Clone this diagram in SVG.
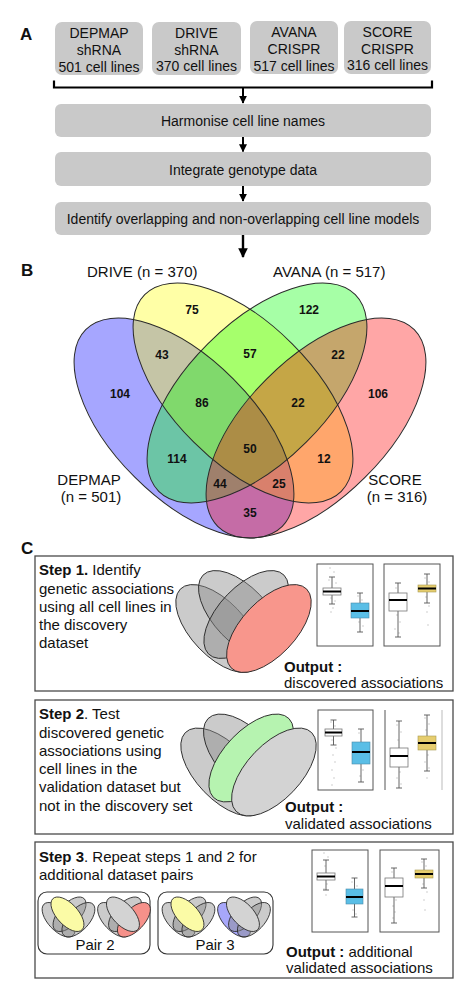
<svg xmlns="http://www.w3.org/2000/svg" xmlns:xlink="http://www.w3.org/1999/xlink" width="474" height="998" viewBox="0 0 474 998">
<style>
text{font-family:"Liberation Sans",Arial,sans-serif;fill:#111}
.hd{font-size:17px;font-weight:bold}
.bx{fill:#c9c9c9}
.bt{font-size:14px;text-anchor:middle}
.ft{font-size:14px;text-anchor:middle}
.vl{font-size:15px}
.vn{font-size:12px;font-weight:bold;text-anchor:middle}
.st{font-size:15px}
.b{font-weight:bold}
.pan{fill:#fff;stroke:#4a4a4a;stroke-width:1.3}
.pair{fill:#fff;stroke:#333;stroke-width:1.1}
.frm{fill:#fff;stroke:#555;stroke-width:1}
.wh{stroke:#555;stroke-width:0.9;fill:none}
.med{stroke:#000;stroke-width:2}
.wb{fill:#fff;stroke:#777;stroke-width:0.8}
.blb{fill:#5abee6;stroke:#4a8aa8;stroke-width:0.6}
.ylb{fill:#e6cd6e;stroke:#a89a50;stroke-width:0.6}
.dot{fill:#888;opacity:0.55}
.ol{fill:none;stroke:#2a2a2a;stroke-width:1}
.g{fill:#8c8c8c;fill-opacity:0.45}
.go{fill:#d3d3d3}
</style>
<defs>
<ellipse id="eA" cx="0" cy="0" rx="139" ry="69.6" transform="translate(184 428) rotate(45)"/>
<ellipse id="eB" cx="0" cy="0" rx="139" ry="69.6" transform="translate(243 393) rotate(45)"/>
<ellipse id="eC" cx="0" cy="0" rx="139" ry="69.6" transform="translate(257 393) rotate(-45)"/>
<ellipse id="eD" cx="0" cy="0" rx="139" ry="69.6" transform="translate(316 428) rotate(-45)"/>
<marker id="ah" viewBox="0 0 10 10" refX="9" refY="5" markerWidth="4" markerHeight="4" markerUnits="strokeWidth" orient="auto"><path d="M0,0 L10,5 L0,10 z" fill="#000"/></marker>
</defs>
<rect width="474" height="998" fill="#fff"/>

<!-- Panel A -->
<text class="hd" x="20" y="40">A</text>
<g id="depmap"><rect class="bx" x="55" y="22" width="88" height="53" rx="7"/><text class="bt" x="99" y="37.5">DEPMAP</text><text class="bt" x="99" y="54.5">shRNA</text><text class="bt" x="99" y="71.5">501 cell lines</text></g>
<g id="drive"><rect class="bx" x="152" y="22" width="89" height="53" rx="7"/><text class="bt" x="196.5" y="37.5">DRIVE</text><text class="bt" x="196.5" y="54.5">shRNA</text><text class="bt" x="196.5" y="71">370 cell lines</text></g>
<g id="avana"><rect class="bx" x="250" y="21" width="88" height="53" rx="7"/><text class="bt" x="294" y="37">AVANA</text><text class="bt" x="294" y="54">CRISPR</text><text class="bt" x="294" y="70.5">517 cell lines</text></g>
<g id="score"><rect class="bx" x="344" y="21" width="87" height="53" rx="7"/><text class="bt" x="387.5" y="36.5">SCORE</text><text class="bt" x="387.5" y="53.5">CRISPR</text><text class="bt" x="387.5" y="70">316 cell lines</text></g>
<g id="harmonise"><rect class="bx" x="55" y="104" width="376" height="33" rx="6"/><text class="ft" x="243" y="126">Harmonise cell line names</text></g>
<g id="integrate"><rect class="bx" x="55" y="152" width="376" height="34" rx="6"/><text class="ft" x="243" y="175">Integrate genotype data</text></g>
<g id="identify"><rect class="bx" x="55" y="202" width="376" height="33" rx="6"/><text class="ft" x="243" y="224">Identify overlapping and non-overlapping cell line models</text></g>
<g id="connectors" fill="none" stroke="#000">
<path d="M54 80.5 V87.5 H432 V80.5" stroke-width="2.2"/>
<line x1="243" y1="87.5" x2="243" y2="103" stroke-width="2" marker-end="url(#ah)"/>
<line x1="243" y1="137" x2="243" y2="151.5" stroke-width="2" marker-end="url(#ah)"/>
<line x1="243" y1="186" x2="243" y2="201" stroke-width="2" marker-end="url(#ah)"/>
<line x1="243" y1="235" x2="243" y2="257" stroke-width="2.4" marker-end="url(#ah)"/>
</g>

<!-- Panel B -->
<text class="hd" x="21" y="276">B</text>
<g id="venn">
<use href="#eA" fill="#0000ff" fill-opacity="0.35"/>
<use href="#eB" fill="#ffff00" fill-opacity="0.35"/>
<use href="#eC" fill="#00ff00" fill-opacity="0.35"/>
<use href="#eD" fill="#ff0000" fill-opacity="0.35"/>
<use href="#eA" class="ol"/><use href="#eB" class="ol"/><use href="#eC" class="ol"/><use href="#eD" class="ol"/>
<text class="vn" x="192" y="314">75</text>
<text class="vn" x="309" y="314">122</text>
<text class="vn" x="162" y="359">43</text>
<text class="vn" x="250" y="358">57</text>
<text class="vn" x="338" y="359">22</text>
<text class="vn" x="120" y="398">104</text>
<text class="vn" x="378" y="398">106</text>
<text class="vn" x="202" y="407">86</text>
<text class="vn" x="298" y="407">22</text>
<text class="vn" x="250" y="453">50</text>
<text class="vn" x="177" y="463">114</text>
<text class="vn" x="324" y="463">12</text>
<text class="vn" x="220" y="488">44</text>
<text class="vn" x="279" y="488">25</text>
<text class="vn" x="250" y="517">35</text>
</g>
<g id="venn-labels">
<text class="vl" x="87" y="277">DRIVE (n = 370)</text>
<text class="vl" x="273" y="277">AVANA (n = 517)</text>
<text class="vl" x="89" y="485" text-anchor="middle">DEPMAP</text>
<text class="vl" x="91" y="502" text-anchor="middle">(n = 501)</text>
<text class="vl" x="395" y="485" text-anchor="middle">SCORE</text>
<text class="vl" x="397" y="502" text-anchor="middle">(n = 316)</text>
</g>

<!-- Panel C -->
<text class="hd" x="21" y="554">C</text>

<g id="step1">
<rect class="pan" x="35" y="556" width="418" height="135"/>
<text class="st" x="39" y="575"><tspan class="b">Step 1.</tspan> Identify</text>
<text class="st" x="39" y="593.5">genetic associations</text>
<text class="st" x="39" y="612">using all cell lines in</text>
<text class="st" x="39" y="630">the discovery</text>
<text class="st" x="39" y="648">dataset</text>
<g transform="translate(243.5 621.5) scale(0.385 0.4) translate(-250 -410.5)" stroke="#2a2a2a" stroke-width="2.3">
<use href="#eA" class="g"/><use href="#eB" class="g"/><use href="#eC" class="g"/>
<use href="#eD" fill="#f8968c"/>
</g>
<rect class="frm" x="317" y="564" width="56" height="82"/>
<rect class="frm" x="384" y="564" width="56" height="82"/>
<g class="dot">
<circle cx="330" cy="568" r="0.7"/><circle cx="334" cy="572" r="0.7"/><circle cx="329" cy="580" r="0.7"/><circle cx="336" cy="583" r="0.7"/><circle cx="331" cy="598" r="0.7"/><circle cx="335" cy="601" r="0.7"/><circle cx="333" cy="608" r="0.7"/><circle cx="331" cy="612" r="0.7"/>
<circle cx="358" cy="596" r="0.7"/><circle cx="362" cy="600" r="0.7"/><circle cx="359" cy="622" r="0.7"/><circle cx="363" cy="626" r="0.7"/>
<circle cx="396" cy="588" r="0.7"/><circle cx="401" cy="596" r="0.7"/><circle cx="397" cy="615" r="0.7"/><circle cx="400" cy="622" r="0.7"/><circle cx="395" cy="629" r="0.7"/><circle cx="399" cy="633" r="0.7"/>
<circle cx="425" cy="578" r="0.7"/><circle cx="429" cy="582" r="0.7"/><circle cx="426" cy="597" r="0.7"/><circle cx="429" cy="606" r="0.7"/><circle cx="427" cy="612" r="0.7"/><circle cx="428" cy="625" r="0.7"/>
</g>
<path class="wh" d="M332 577V604M329 577H335M329 604H335M360 593V632M357 593H363M357 632H363M398 583V637M395 583H401M395 637H401M427 574V603M424 574H430M424 603H430"/>
<rect class="wb" x="323" y="588" width="18" height="7"/><line class="med" x1="323" y1="591.5" x2="341" y2="591.5"/>
<rect class="blb" x="351" y="603" width="18" height="15"/><line class="med" x1="351" y1="611" x2="369" y2="611"/>
<rect class="wb" x="389" y="593" width="18" height="18"/><line class="med" x1="389" y1="600" x2="407" y2="600"/>
<rect class="ylb" x="418" y="585" width="18" height="7"/><line class="med" x1="418" y1="588.5" x2="436" y2="588.5"/>
<text class="st b" x="284" y="672">Output :</text>
<text class="st" x="284" y="688">discovered associations</text>
</g>

<g id="step2">
<rect class="pan" x="35" y="700" width="418" height="134"/>
<text class="st" x="39" y="719"><tspan class="b">Step 2</tspan>. Test</text>
<text class="st" x="39" y="737.5">discovered genetic</text>
<text class="st" x="39" y="755.5">associations using</text>
<text class="st" x="39" y="773.5">cell lines in the</text>
<text class="st" x="39" y="792">validation dataset but</text>
<text class="st" x="39" y="810.5">not in the discovery set</text>
<g transform="translate(248.5 765) scale(0.385 0.4) translate(-250 -410.5)" stroke="#2a2a2a" stroke-width="2.3">
<use href="#eA" class="g" fill-opacity="0.35"/><use href="#eB" class="g" fill-opacity="0.35"/>
<use href="#eC" fill="#b6f3b0"/>
<use href="#eD" class="go"/>
</g>
<rect class="frm" x="318" y="710" width="55" height="80"/>
<path d="M385 710V790" stroke="#555" stroke-width="1"/>
<path d="M442 710V790" stroke="#bbb" stroke-width="1"/>
<g class="dot">
<circle cx="331" cy="722" r="0.7"/><circle cx="335" cy="726" r="0.7"/><circle cx="332" cy="740" r="0.7"/><circle cx="336" cy="748" r="0.7"/><circle cx="333" cy="755" r="0.7"/><circle cx="335" cy="762" r="0.7"/><circle cx="332" cy="770" r="0.7"/><circle cx="334" cy="778" r="0.7"/><circle cx="332" cy="785" r="0.7"/>
<circle cx="359" cy="733" r="0.7"/><circle cx="363" cy="770" r="0.7"/><circle cx="360" cy="776" r="0.7"/>
<circle cx="397" cy="725" r="0.7"/><circle cx="401" cy="732" r="0.7"/><circle cx="398" cy="740" r="0.7"/><circle cx="400" cy="772" r="0.7"/><circle cx="397" cy="778" r="0.7"/><circle cx="401" cy="784" r="0.7"/>
<circle cx="425" cy="718" r="0.7"/><circle cx="429" cy="724" r="0.7"/><circle cx="426" cy="730" r="0.7"/><circle cx="428" cy="755" r="0.7"/><circle cx="425" cy="762" r="0.7"/><circle cx="429" cy="768" r="0.7"/><circle cx="427" cy="778" r="0.7"/>
</g>
<path class="wh" d="M333.5 720V745M330.5 720H336.5M330.5 745H336.5M361 729V782M358 729H364M358 782H364M399 721V788M396 721H402M396 788H402M427 715V771M424 715H430M424 771H430"/>
<rect class="wb" x="325" y="729" width="17" height="7"/><line class="med" x1="325" y1="732.5" x2="342" y2="732.5"/>
<rect class="blb" x="352" y="742" width="18" height="22"/><line class="med" x1="352" y1="752" x2="370" y2="752"/>
<rect class="wb" x="390" y="748" width="18" height="19"/><line class="med" x1="390" y1="756" x2="408" y2="756"/>
<rect class="ylb" x="418" y="736" width="18" height="14"/><line class="med" x1="418" y1="743" x2="436" y2="743"/>
<text class="st b" x="285" y="812">Output :</text>
<text class="st" x="285" y="829">validated associations</text>
</g>

<g id="step3">
<rect class="pan" x="35" y="842" width="418" height="136"/>
<text class="st" x="39" y="862"><tspan class="b">Step 3</tspan>. Repeat steps 1 and 2 for</text>
<text class="st" x="39" y="880">additional dataset pairs</text>
<g id="pair2">
<rect class="pair" x="38" y="892" width="112" height="62" rx="9"/>
<g transform="translate(68.5 917) scale(0.15 0.157) translate(-250 -410.5)" stroke="#2a2a2a" stroke-width="5.5">
<use href="#eA" class="g"/><use href="#eC" class="g"/><use href="#eD" class="g"/>
<use href="#eB" fill="#fbfba6"/>
</g>
<g transform="translate(124 917) scale(0.15 0.157) translate(-250 -410.5)" stroke="#2a2a2a" stroke-width="5.5">
<use href="#eA" class="g"/><use href="#eC" class="g"/>
<use href="#eD" fill="#f6918a"/>
<use href="#eB" class="go"/>
</g>
<text class="st" x="95" y="950" text-anchor="middle">Pair 2</text>
</g>
<g id="pair3">
<rect class="pair" x="158" y="892" width="115" height="62" rx="9"/>
<g transform="translate(188.5 917) scale(0.15 0.157) translate(-250 -410.5)" stroke="#2a2a2a" stroke-width="5.5">
<use href="#eA" class="g"/><use href="#eC" class="g"/><use href="#eD" class="g"/>
<use href="#eB" fill="#fbfba6"/>
</g>
<g transform="translate(244 917) scale(0.15 0.157) translate(-250 -410.5)" stroke="#2a2a2a" stroke-width="5.5">
<use href="#eA" fill="#a7a7fa"/><use href="#eC" class="g"/><use href="#eD" class="g"/>
<use href="#eB" class="go"/>
</g>
<text class="st" x="215" y="950" text-anchor="middle">Pair 3</text>
</g>
<rect class="frm" x="312" y="850" width="56" height="82"/>
<rect class="frm" x="380" y="850" width="59" height="82"/>
<g class="dot">
<circle cx="324" cy="853" r="0.7"/><circle cx="328" cy="857" r="0.7"/><circle cx="325" cy="866" r="0.7"/><circle cx="327" cy="884" r="0.7"/><circle cx="324" cy="889" r="0.7"/><circle cx="326" cy="895" r="0.7"/>
<circle cx="352" cy="882" r="0.7"/><circle cx="357" cy="886" r="0.7"/><circle cx="353" cy="910" r="0.7"/><circle cx="356" cy="914" r="0.7"/>
<circle cx="392" cy="872" r="0.7"/><circle cx="396" cy="900" r="0.7"/><circle cx="393" cy="906" r="0.7"/><circle cx="395" cy="912" r="0.7"/><circle cx="393" cy="918" r="0.7"/>
<circle cx="422" cy="862" r="0.7"/><circle cx="426" cy="866" r="0.7"/><circle cx="423" cy="884" r="0.7"/><circle cx="427" cy="892" r="0.7"/><circle cx="424" cy="900" r="0.7"/><circle cx="425" cy="910" r="0.7"/>
</g>
<path class="wh" d="M326 860V890M323 860H329M323 890H329M354.5 878V917M351.5 878H357.5M351.5 917H357.5M394 868V923M391 868H397M391 923H397M424 859V888M421 859H427M421 888H427"/>
<rect class="wb" x="317" y="873" width="18" height="7"/><line class="med" x1="317" y1="876.5" x2="335" y2="876.5"/>
<rect class="blb" x="346" y="889" width="17" height="15"/><line class="med" x1="346" y1="897" x2="363" y2="897"/>
<rect class="wb" x="385" y="878" width="18" height="19"/><line class="med" x1="385" y1="886" x2="403" y2="886"/>
<rect class="ylb" x="415" y="870" width="18" height="8"/><line class="med" x1="415" y1="874" x2="433" y2="874"/>
<text class="st" x="286" y="957"><tspan class="b">Output :</tspan> additional</text>
<text class="st" x="286" y="973">validated associations</text>
</g>
</svg>
